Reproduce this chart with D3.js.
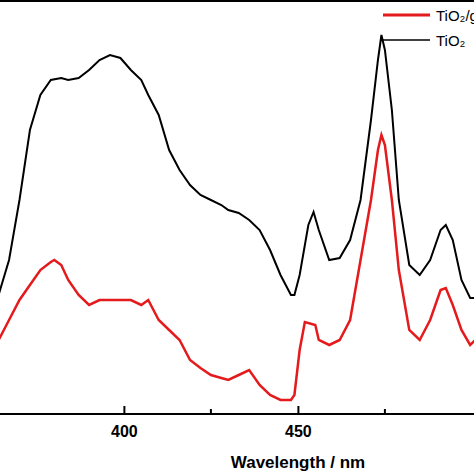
<!DOCTYPE html>
<html><head><meta charset="utf-8">
<script src="https://cdn.jsdelivr.net/npm/d3@7"></script>
<style>body{margin:0;background:#fff}svg{display:block}</style>
</head><body><div id="chart"></div>
<script>
// wavelength (nm) and PL intensity (a.u.)
const wlBlack = [364,367,370,373,376,379,382,384,387,390,393,396,399,402,405,407,410,413,416,419,422,425,428,430,433,436,439,442,445,448,449,450.5,453,454.5,456,459,462,465,468,471,473,474,475,477,479,482,485,488,491,492.5,494.5,497,499.5,501];
const iBlack  = [119,154,214,284,319,334,336,334,336,344,354,359,356,344,334,319,299,264,244,229,219,214,209,204,201,194,184,164,139,119,119,139,189,202,184,154,156,174,214,294,354,379,364,304,214,149,139,154,184,189,174,134,116,116];
const wlRed = [364,367,370,373,376,379,380,382,384,387,390,393,396,399,402,405,407,410,413,416,419,422,425,428,430,433,436,439,442,445,448,449,450.5,452,455,456,459,462,465,468,471,473,474,475,477,479,482,485,488,491,492.5,494.5,497,499.5,501];
const iRed  = [74,94,114,129,144,152,154,149,134,119,109,114,114,114,114,109,114,94,84,74,54,46,39,36,34,39,44,29,19,14,14,19,64,92,89,74,69,74,94,154,214,264,279,269,214,144,84,74,94,124,126,109,84,69,74];
const legendNames = ["TiO\u2082/g-C\u2083N\u2084", "TiO\u2082"];
const legendColors = ["#e41a1c", "#000"];
const xTicks = [400, 450];
const xMinor = [425, 475];

const W = 474, H = 474;
const svg = d3.select("#chart").append("svg").attr("width", W).attr("height", H);

const x = d3.scaleLinear().domain([364.4, 500.6]).range([0, 474]);
const y = d3.scaleLinear().domain([0, 414]).range([414, 0]);

svg.append("line").attr("x1", 0).attr("x2", W).attr("y1", 1).attr("y2", 1)
  .attr("stroke", "#000").attr("stroke-width", 2);

const axis = svg.append("g").attr("transform", "translate(0,414)")
  .call(d3.axisBottom(x).tickValues(xTicks).tickFormat(d3.format("d")).tickSize(-8).tickPadding(12));
axis.select(".domain").attr("stroke-width", 2).attr("d", `M0,0H${W}`);
axis.selectAll(".tick line").attr("stroke-width", 2);
axis.selectAll("text").attr("font-family", "Arial, Liberation Sans, sans-serif")
  .attr("font-size", 16).attr("font-weight", "bold").attr("fill", "#000");
axis.selectAll(".minor").data(xMinor).enter().append("line")
  .attr("x1", d => x(d)).attr("x2", d => x(d)).attr("y1", 0).attr("y2", -5)
  .attr("stroke", "#000").attr("stroke-width", 2);

svg.append("text").attr("x", 298).attr("y", 468).attr("text-anchor", "middle")
  .attr("font-family", "Arial, Liberation Sans, sans-serif").attr("font-size", 17).attr("font-weight", "bold")
  .text("Wavelength / nm");

const line = d3.line().x(d => x(d[0])).y(d => y(d[1]));
svg.append("path").datum(d3.zip(wlBlack, iBlack)).attr("d", line)
  .attr("fill", "none").attr("stroke", "#000").attr("stroke-width", 2);
svg.append("path").datum(d3.zip(wlRed, iRed)).attr("d", line)
  .attr("fill", "none").attr("stroke", "#e41a1c").attr("stroke-width", 2.5);

const lg = svg.append("g");
legendNames.forEach((n, i) => {
  lg.append("line").attr("x1", 383).attr("x2", 430).attr("y1", 15 + i * 25).attr("y2", 15 + i * 25)
    .attr("stroke", legendColors[i]).attr("stroke-width", i === 0 ? 3 : 1.5);
  lg.append("text").attr("x", 436).attr("y", 21 + i * 25)
    .attr("font-family", "Arial, Liberation Sans, sans-serif").attr("font-size", 15).text(n);
});
</script></body></html>
